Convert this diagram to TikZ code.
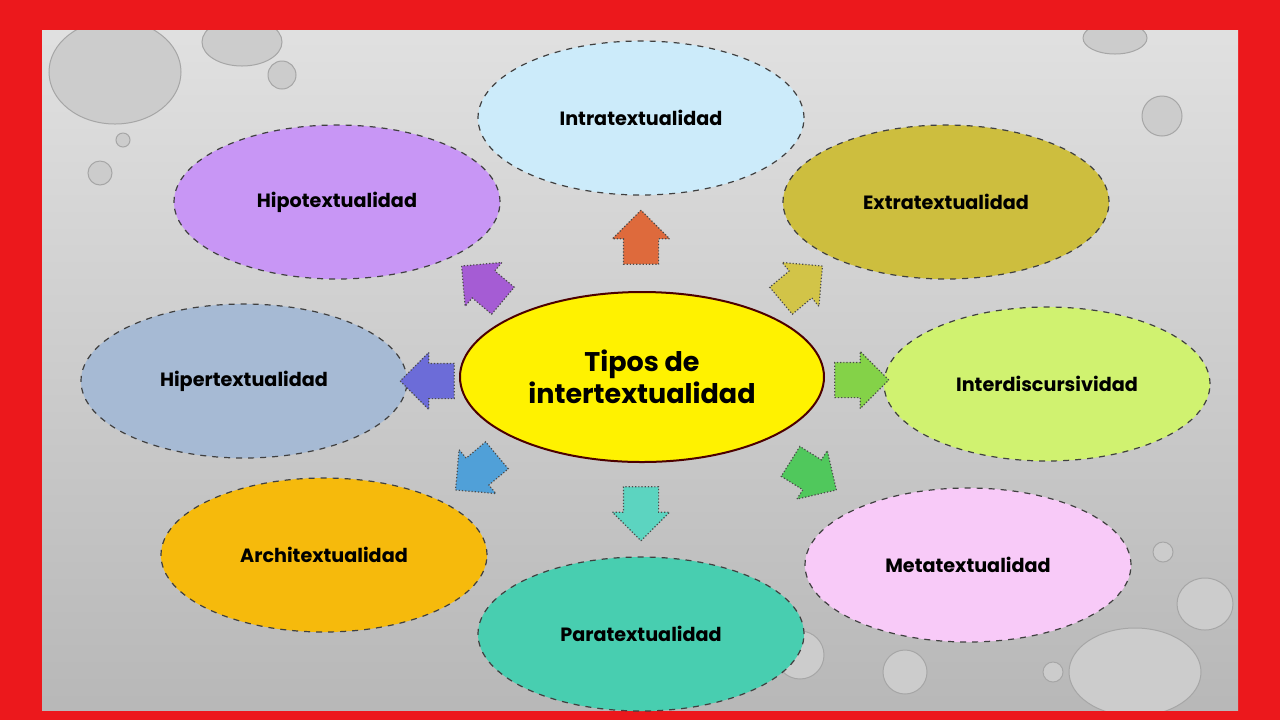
\documentclass[tikz,border=0pt]{standalone}
\usepackage{fontspec}
\setmainfont{Poppins}
\usetikzlibrary{shapes.geometric,shapes.arrows}
\definecolor{marco}{RGB}{236,24,28}
\definecolor{cIntra}{RGB}{204,235,250}
\definecolor{cHipo}{RGB}{200,150,245}
\definecolor{cExtra}{RGB}{205,190,62}
\definecolor{cHiper}{RGB}{166,186,212}
\definecolor{cInter}{RGB}{208,242,112}
\definecolor{cArchi}{RGB}{246,186,12}
\definecolor{cMeta}{RGB}{248,202,248}
\definecolor{cPara}{RGB}{72,206,176}
\definecolor{fNaranja}{RGB}{222,106,60}
\definecolor{fMorado}{RGB}{165,92,212}
\definecolor{fOliva}{RGB}{210,196,72}
\definecolor{fAzul}{RGB}{108,108,216}
\definecolor{fLima}{RGB}{132,210,72}
\definecolor{fCielo}{RGB}{80,160,216}
\definecolor{fVerde}{RGB}{80,200,92}
\definecolor{fTurquesa}{RGB}{92,212,192}

\begin{document}
\begin{tikzpicture}[x=0.5pt,y=-0.5pt,
    tipo/.style={ellipse,draw=black!75,dashed,line width=.6pt,
      minimum width=163pt,minimum height=77pt,inner sep=0pt,
      font=\fontsize{9.6}{11}\selectfont\bfseries},
    flecha/.style={single arrow,draw=black!70,densely dotted,line width=.6pt,
      minimum height=27pt,single arrow head extend=5.5pt,
      inner xsep=0pt,inner ysep=8.5pt},
    gota/.style={fill=black!20,draw=black!35,line width=.5pt}]
  \fill[marco] (0,0) rectangle (1280,720);
  \shade[top color=black!12,bottom color=black!28] (42,30) rectangle (1238,710);
  \begin{scope}
    \clip (42,30) rectangle (1238,710);
    \foreach \cx/\cy/\rx/\ry in {115/72/66/52,242/42/40/24,282/75/14/14,
        123/140/7/7,100/173/12/12,1115/38/32/16,1162/116/20/20,
        1205/604/28/26,1135/672/66/44,1053/672/10/10,1163/552/10/10,
        905/672/22/22,800/655/24/24}
      \filldraw[gota] (\cx,\cy) ellipse[x radius=\rx,y radius=\ry];
  \end{scope}

  \node[ellipse,fill=yellow,draw=black!70!red,line width=1pt,minimum width=182pt,
    minimum height=85pt,inner sep=0pt,align=center,
    font=\fontsize{13.5}{16}\selectfont\bfseries] (tipos) at (642,377)
    {Tipos de\\intertextualidad};

  \node[tipo,fill=cIntra] (intra) at (641,118) {Intratextualidad};
  \node[tipo,fill=cHipo] (hipo) at (337,202) {Hipotextualidad};
  \node[tipo,fill=cExtra] (extra) at (946,202) {Extratextualidad};
  \node[tipo,fill=cHiper] (hiper) at (244,381) {Hipertextualidad};
  \node[tipo,fill=cInter] (inter) at (1047,384) {Interdiscursividad};
  \node[tipo,fill=cArchi] (archi) at (324,555) {Architextualidad};
  \node[tipo,fill=cMeta] (meta) at (968,565) {Metatextualidad};
  \node[tipo,fill=cPara] (para) at (641,634) {Paratextualidad};

  \foreach \nombre/\x/\y/\ang/\col in {aIntra/641/246/90/fNaranja,
      aHipo/489/289/140/fMorado,aExtra/795/289/40/fOliva,
      aHiper/436/381/180/fAzul,aInter/853/380/0/fLima,
      aArchi/483/467/220/fCielo,aMeta/806/471/-32/fVerde,
      aPara/641/505/-90/fTurquesa}
    \node[flecha,fill=\col,rotate=\ang] (\nombre) at (\x,\y) {};
\end{tikzpicture}
\end{document}
